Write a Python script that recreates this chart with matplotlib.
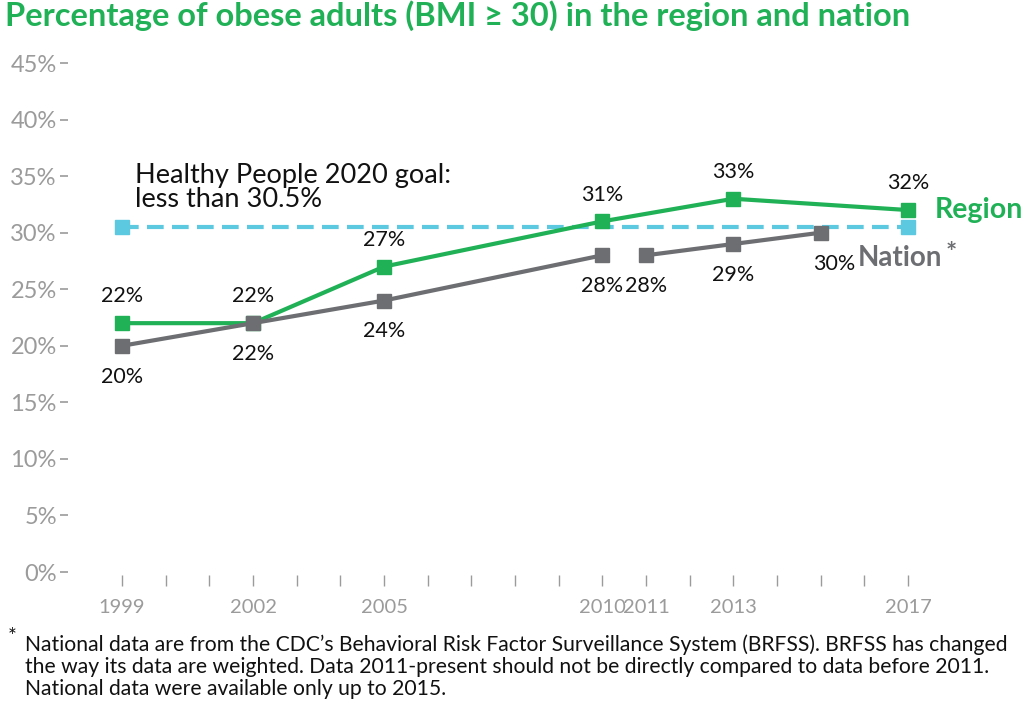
import matplotlib
matplotlib.use("Agg")
import matplotlib.pyplot as plt

# data
years_ticks = list(range(1999, 2018))
year_labels = ["1999", "2002", "2005", "2010", "2011", "2013", "2017"]
region_years = [1999, 2002, 2005, 2010, 2013, 2017]
region_vals = [22, 22, 27, 31, 33, 32]
nation_years_a = [1999, 2002, 2005, 2010]
nation_vals_a = [20, 22, 24, 28]
nation_years_b = [2011, 2013, 2015]
nation_vals_b = [28, 29, 30]
goal_years = [1999, 2017]
goal_val = 30.5
y_ticks = [0, 5, 10, 15, 20, 25, 30, 35, 40, 45]

GREEN = "#20B157"
GRAY = "#6D6E72"
BLUE = "#5CC9E1"
TICK = "#9B9B9B"

plt.rcParams['font.family'] = ['Lato', 'DejaVu Sans']

fig = plt.figure(figsize=(10.24, 7.03), dpi=100)
ax = fig.add_axes([68/1024, 127.6/703, (1000-68)/1024, (651.3-127.6)/703])
ax.set_xlim(1997.763, 2019.105)
ax.set_ylim(-0.3, 46)
for s in ax.spines.values():
    s.set_visible(False)

# goal line
ax.plot(goal_years, [goal_val]*2, color=BLUE, lw=3, ls=(0, (4, 2)),
        marker='s', ms=10, zorder=2)

# series
ax.plot(region_years, region_vals, color=GREEN, lw=3, marker='s', ms=10, zorder=3)
ax.plot(nation_years_a, nation_vals_a, color=GRAY, lw=3, marker='s', ms=10, zorder=4)
ax.plot(nation_years_b, nation_vals_b, color=GRAY, lw=3, marker='s', ms=10, zorder=4)

# value labels
for x, v in zip(region_years, region_vals):
    ax.annotate(f"{v}%", (x, v), xytext=(0, 12), textcoords='offset points',
                ha='center', va='bottom', fontsize=15.5, color='#111111')
for x, v in zip(nation_years_a + nation_years_b, nation_vals_a + nation_vals_b):
    dx = 10 if x == 2015 else 0
    ax.annotate(f"{v}%", (x, v), xytext=(dx, -15), textcoords='offset points',
                ha='center', va='top', fontsize=15.5, color='#111111')

ax.text(1999.3, 31.8, "Healthy People 2020 goal:\nless than 30.5%", fontsize=19.5,
        color='#111111', ha='left', va='bottom', linespacing=0.95)

ax.text(2017.6, region_vals[-1], "Region", color=GREEN, fontsize=20.5,
        fontweight='bold', ha='left', va='center', clip_on=False)
ax.text(2015.85, 27.8, "Nation", color=GRAY, fontsize=20,
        fontweight='bold', ha='left', va='center')
ax.text(2017.85, 28.2, "*", color=GRAY, fontsize=19,
        fontweight='bold', ha='left', va='center')

# axes ticks
ax.set_yticks(y_ticks)
ax.set_yticklabels([f"{t}%" for t in y_ticks], fontsize=17, color=TICK)
ax.tick_params(axis='y', length=6, width=1.2, color=TICK, direction='out', pad=2)
ax.set_xticks(years_ticks)
ax.set_xticklabels([str(y) if str(y) in year_labels else "" for y in years_ticks],
                   fontsize=14.5, color=TICK)
ax.tick_params(axis='x', length=8, width=1, color=TICK, direction='out', pad=9)

fig.text(5/1024, 1 - 16/703, "Percentage of obese adults (BMI \u2265 30) in the region and nation",
         color=GREEN, fontsize=23.5, fontweight='bold', ha='left', va='center')

fig.text(8/1024, 1 - 637/703, "*", fontsize=15, color='#111111', ha='left', va='center')
fig.text(25/1024, 1 - 667/703,
         "National data are from the CDC\u2019s Behavioral Risk Factor Surveillance System (BRFSS). BRFSS has changed\n"
         "the way its data are weighted. Data 2011-present should not be directly compared to data before 2011.\n"
         "National data were available only up to 2015.",
         fontsize=15.2, color='#111111', ha='left', va='center', linespacing=1.12)

fig.savefig("out.png", dpi=100)
